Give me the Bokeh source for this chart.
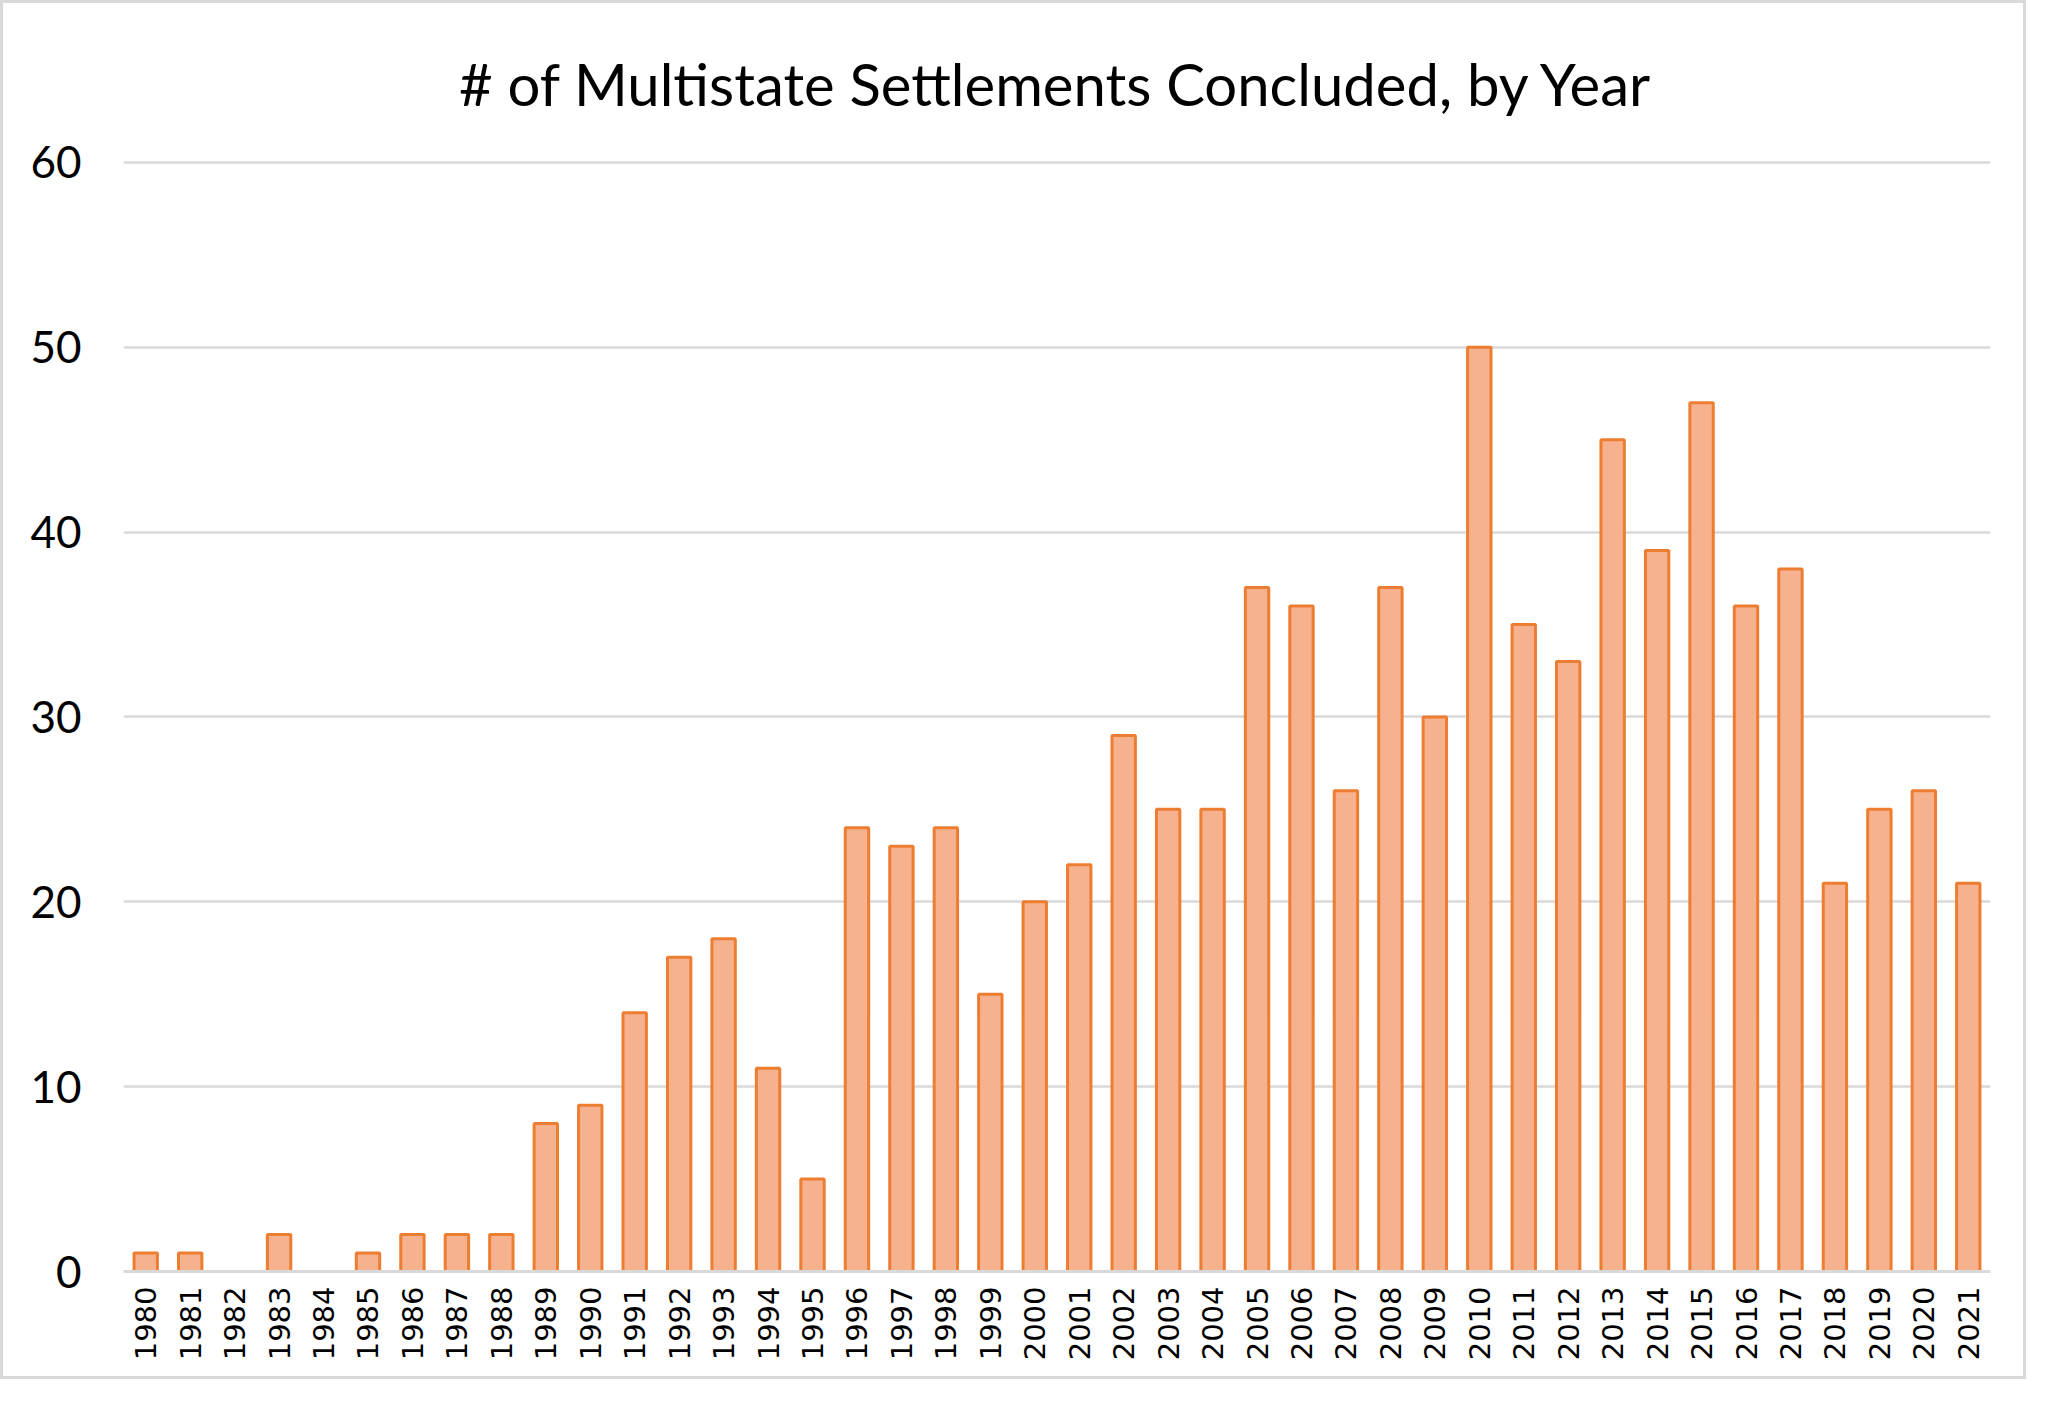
import math
from bokeh.plotting import figure
from bokeh.models import FactorRange, FixedTicker, Title, ColumnDataSource, Range1d
from bokeh.embed import file_html
from bokeh.resources import INLINE

years = [str(y) for y in range(1980, 2022)]
settlements = [1, 1, 0, 2, 0, 1, 2, 2, 2, 8,
               9, 14, 17, 18, 11, 5, 24, 23, 24, 15,
               20, 22, 29, 25, 25, 37, 36, 26, 37, 30,
               50, 35, 33, 45, 39, 47, 36, 38, 21, 25,
               26, 21]
y_ticks = [0, 10, 20, 30, 40, 50, 60]
title_text = "# of Multistate Settlements Concluded, by Year"

src = ColumnDataSource(dict(year=years, count=settlements))

p = figure(x_range=FactorRange(*years, range_padding=0), y_range=Range1d(0, 60.1),
           width=2026, height=1379, output_backend="svg", toolbar_location=None,
           min_border_left=120, min_border_right=39, min_border_top=155,
           min_border_bottom=111)
p.styles = {"border": "3px solid #D9D9D9"}
p.title = Title(text=title_text, align="center", text_font="Lato",
                text_font_size="58px", text_font_style="normal",
                text_color="#000000", standoff=86)
p.outline_line_color = None
p.background_fill_color = "white"
p.border_fill_color = "white"

p.vbar(x="year", top="count", width=0.526, source=src,
       fill_color="#F6B28F", line_color="#ED7D31", line_width=3)

p.yaxis.ticker = FixedTicker(ticks=y_ticks)
p.yaxis.axis_line_color = None
p.yaxis.major_tick_line_color = None
p.yaxis.minor_tick_line_color = None
p.yaxis.major_label_text_font = "Lato"
p.yaxis.major_label_text_font_size = "44px"
p.yaxis.major_label_text_color = "#000000"
p.yaxis.major_label_standoff = 36

p.xaxis.axis_line_color = "#D9D9D9"
p.xaxis.axis_line_width = 3
p.xaxis.major_tick_line_color = None
p.xaxis.minor_tick_line_color = None
p.xaxis.major_label_orientation = math.pi / 2
p.xaxis.major_label_text_font = "DejaVu Sans"
p.xaxis.major_label_text_font_size = "29px"
p.xaxis.major_label_text_color = "#000000"
p.xaxis.major_label_standoff = 9

p.xgrid.grid_line_color = None
p.ygrid.grid_line_color = "#D9D9D9"
p.ygrid.grid_line_width = 2.5

open("out.html", "w").write(file_html(p, INLINE))
